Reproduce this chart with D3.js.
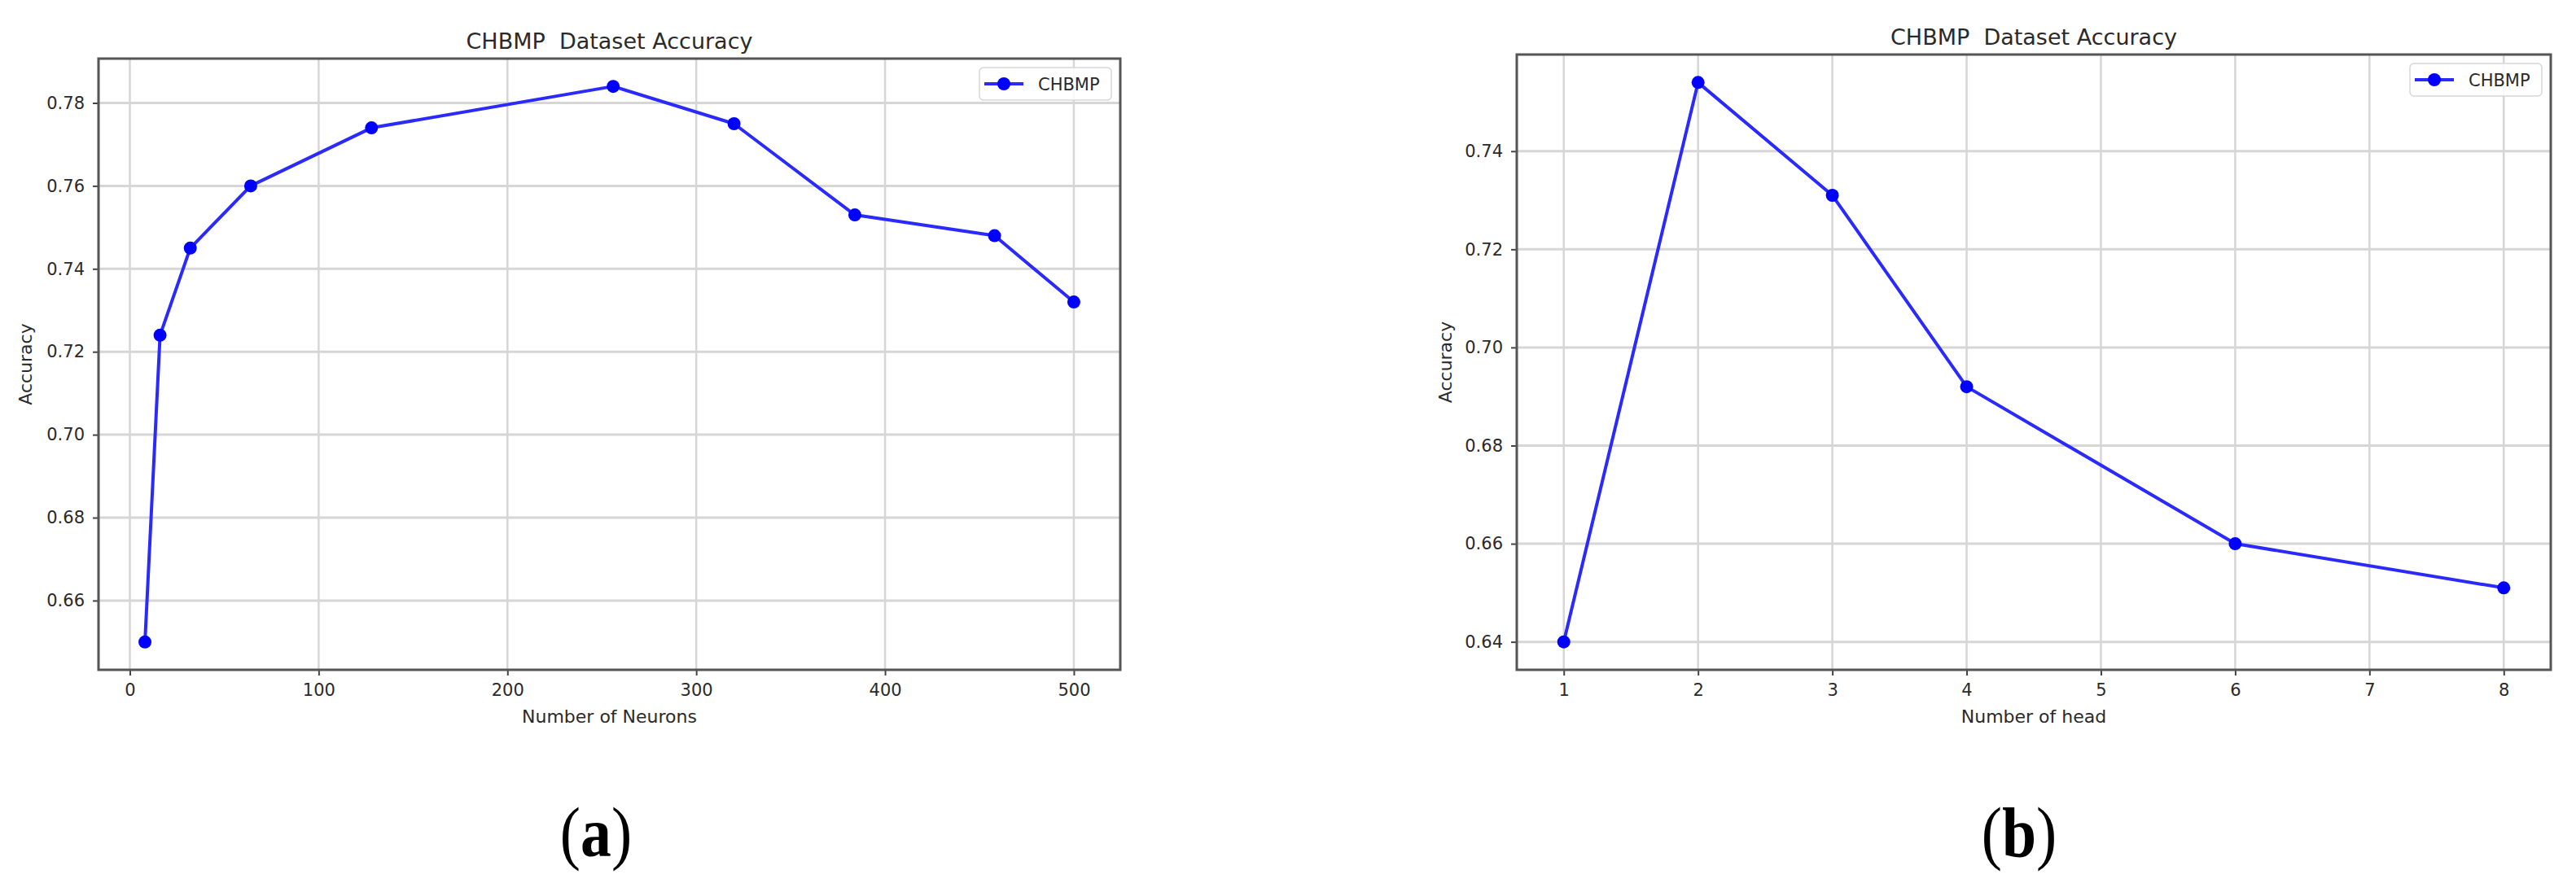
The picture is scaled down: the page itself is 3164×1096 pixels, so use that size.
<!DOCTYPE html>
<html>
<head>
<meta charset="utf-8">
<script src="https://cdn.jsdelivr.net/npm/d3@7/dist/d3.min.js"></script>
<style>
  html, body { margin: 0; padding: 0; background: #fff; }
  svg { display: block; }
</style>
</head>
<body>
<svg id="chart" width="3164" height="1096"></svg>
<script>
// ---------- data ----------
const neurons = [8, 16, 32, 64, 128, 256, 320, 384, 458, 500];
const neuronAcc = [0.650, 0.724, 0.745, 0.760, 0.774, 0.784, 0.775, 0.753, 0.748, 0.732];
const neuronXTicks = [0, 100, 200, 300, 400, 500];
const neuronYTicks = [0.66, 0.68, 0.70, 0.72, 0.74, 0.76, 0.78];

const heads = [1, 2, 3, 4, 6, 8];
const headAcc = [0.640, 0.754, 0.731, 0.692, 0.660, 0.651];
const headXTicks = [1, 2, 3, 4, 5, 6, 7, 8];
const headYTicks = [0.64, 0.66, 0.68, 0.70, 0.72, 0.74];

const titleText = "CHBMP  Dataset Accuracy";
const seriesName = "CHBMP";
const yLabel = "Accuracy";
const xLabelA = "Number of Neurons";
const xLabelB = "Number of head";
const panelLabels = ["a", "b"];

// ---------- drawing ----------
const svg = d3.select("#chart");
const FONT = "'DejaVu Sans', sans-serif";
const TXT = "#2a2a2a";

function margin5(lo, hi) { const m = (hi - lo) * 0.05; return [lo - m, hi + m]; }

function panel(cfg) {
  const { left, right, top, bottom, xs, ys, xTicks, yTicks, xFmt, yFmt, xLab, titleY, yLabX, panelX, panelLabel } = cfg;
  const x = d3.scaleLinear().domain(margin5(d3.min(xs), d3.max(xs))).range([left, right]);
  const y = d3.scaleLinear().domain(margin5(d3.min(ys), d3.max(ys))).range([bottom, top]);
  const g = svg.append("g");

  // grid
  g.append("g").selectAll("line").data(xTicks).join("line")
    .attr("x1", d => x(d)).attr("x2", d => x(d)).attr("y1", top).attr("y2", bottom)
    .attr("stroke", "#d6d6d6").attr("stroke-width", 2.5);
  g.append("g").selectAll("line").data(yTicks).join("line")
    .attr("x1", left).attr("x2", right).attr("y1", d => y(d)).attr("y2", d => y(d))
    .attr("stroke", "#d6d6d6").attr("stroke-width", 3);

  // axes
  const xAxis = d3.axisBottom(x).tickValues(xTicks).tickFormat(xFmt).tickSize(7).tickPadding(10);
  const yAxis = d3.axisLeft(y).tickValues(yTicks).tickFormat(yFmt).tickSize(7).tickPadding(10);
  const gx = g.append("g").attr("transform", `translate(0,${bottom})`).call(xAxis);
  const gy = g.append("g").attr("transform", `translate(${left},0)`).call(yAxis);
  [gx, gy].forEach(a => {
    a.select(".domain").remove();
    a.selectAll(".tick line").attr("stroke", "#444").attr("stroke-width", 2);
    a.selectAll(".tick text").attr("fill", TXT).style("font-family", FONT).style("font-size", "21px");
  });

  // frame
  g.append("rect").attr("x", left).attr("y", top).attr("width", right - left).attr("height", bottom - top)
    .attr("fill", "none").attr("stroke", "#555").attr("stroke-width", 3);

  // line + markers
  const pts = xs.map((v, i) => [v, ys[i]]);
  g.append("path").datum(pts)
    .attr("d", d3.line().x(d => x(d[0])).y(d => y(d[1])))
    .attr("fill", "none").attr("stroke", "#2a2aff").attr("stroke-width", 4).attr("stroke-linejoin", "round");
  g.append("g").selectAll("circle").data(pts).join("circle")
    .attr("cx", d => x(d[0])).attr("cy", d => y(d[1])).attr("r", 8).attr("fill", "#0000ff");

  // title
  g.append("text").attr("x", (left + right) / 2).attr("y", titleY).attr("text-anchor", "middle")
    .style("white-space", "pre").attr("xml:space", "preserve")
    .attr("fill", TXT).style("font-family", FONT).style("font-size", "27px").text(titleText);
  // x label
  g.append("text").attr("x", (left + right) / 2).attr("y", 888).attr("text-anchor", "middle")
    .attr("fill", TXT).style("font-family", FONT).style("font-size", "22px").text(xLab);
  // y label
  g.append("text").attr("transform", `translate(${yLabX},${(top + bottom) / 2}) rotate(-90)`)
    .attr("text-anchor", "middle").attr("dy", "0.35em")
    .attr("fill", TXT).style("font-family", FONT).style("font-size", "22px").text(yLabel);

  // legend
  const lw = 162, lh = 40;
  const lx = right - 11 - lw, ly = top + 11;
  const lg = g.append("g").attr("transform", `translate(${lx},${ly})`);
  lg.append("rect").attr("width", lw).attr("height", lh).attr("rx", 5)
    .attr("fill", "rgba(255,255,255,0.85)").attr("stroke", "#d8d8d8").attr("stroke-width", 1.5);
  lg.append("line").attr("x1", 6).attr("x2", 54).attr("y1", lh / 2).attr("y2", lh / 2)
    .attr("stroke", "#2a2aff").attr("stroke-width", 4);
  lg.append("circle").attr("cx", 30).attr("cy", lh / 2).attr("r", 8).attr("fill", "#0000ff");
  lg.append("text").attr("x", 72).attr("y", lh / 2).attr("dy", "0.36em")
    .attr("fill", TXT).style("font-family", FONT).style("font-size", "21px").text(seriesName);

  // panel label (a)/(b)
  const pl = svg.append("text").attr("transform", `translate(${panelX},1052) scale(0.88,1)`)
    .attr("text-anchor", "middle")
    .style("font-family", "'Liberation Serif', 'Times New Roman', serif").style("font-size", "86px")
    .attr("fill", "#000");
  pl.append("tspan").text("(");
  pl.append("tspan").style("font-weight", "bold").text(panelLabel);
  pl.append("tspan").text(")");
}

panel({
  left: 121, right: 1376, top: 72, bottom: 823,
  xs: neurons, ys: neuronAcc, xTicks: neuronXTicks, yTicks: neuronYTicks,
  xFmt: d3.format("d"), yFmt: d3.format(".2f"), xLab: xLabelA,
  titleY: 60, yLabX: 31, panelX: 732, panelLabel: panelLabels[0]
});
panel({
  left: 1863, right: 3133, top: 67, bottom: 823,
  xs: heads, ys: headAcc, xTicks: headXTicks, yTicks: headYTicks,
  xFmt: d3.format("d"), yFmt: d3.format(".2f"), xLab: xLabelB,
  titleY: 55, yLabX: 1775, panelX: 2480, panelLabel: panelLabels[1]
});
</script>
</body>
</html>
